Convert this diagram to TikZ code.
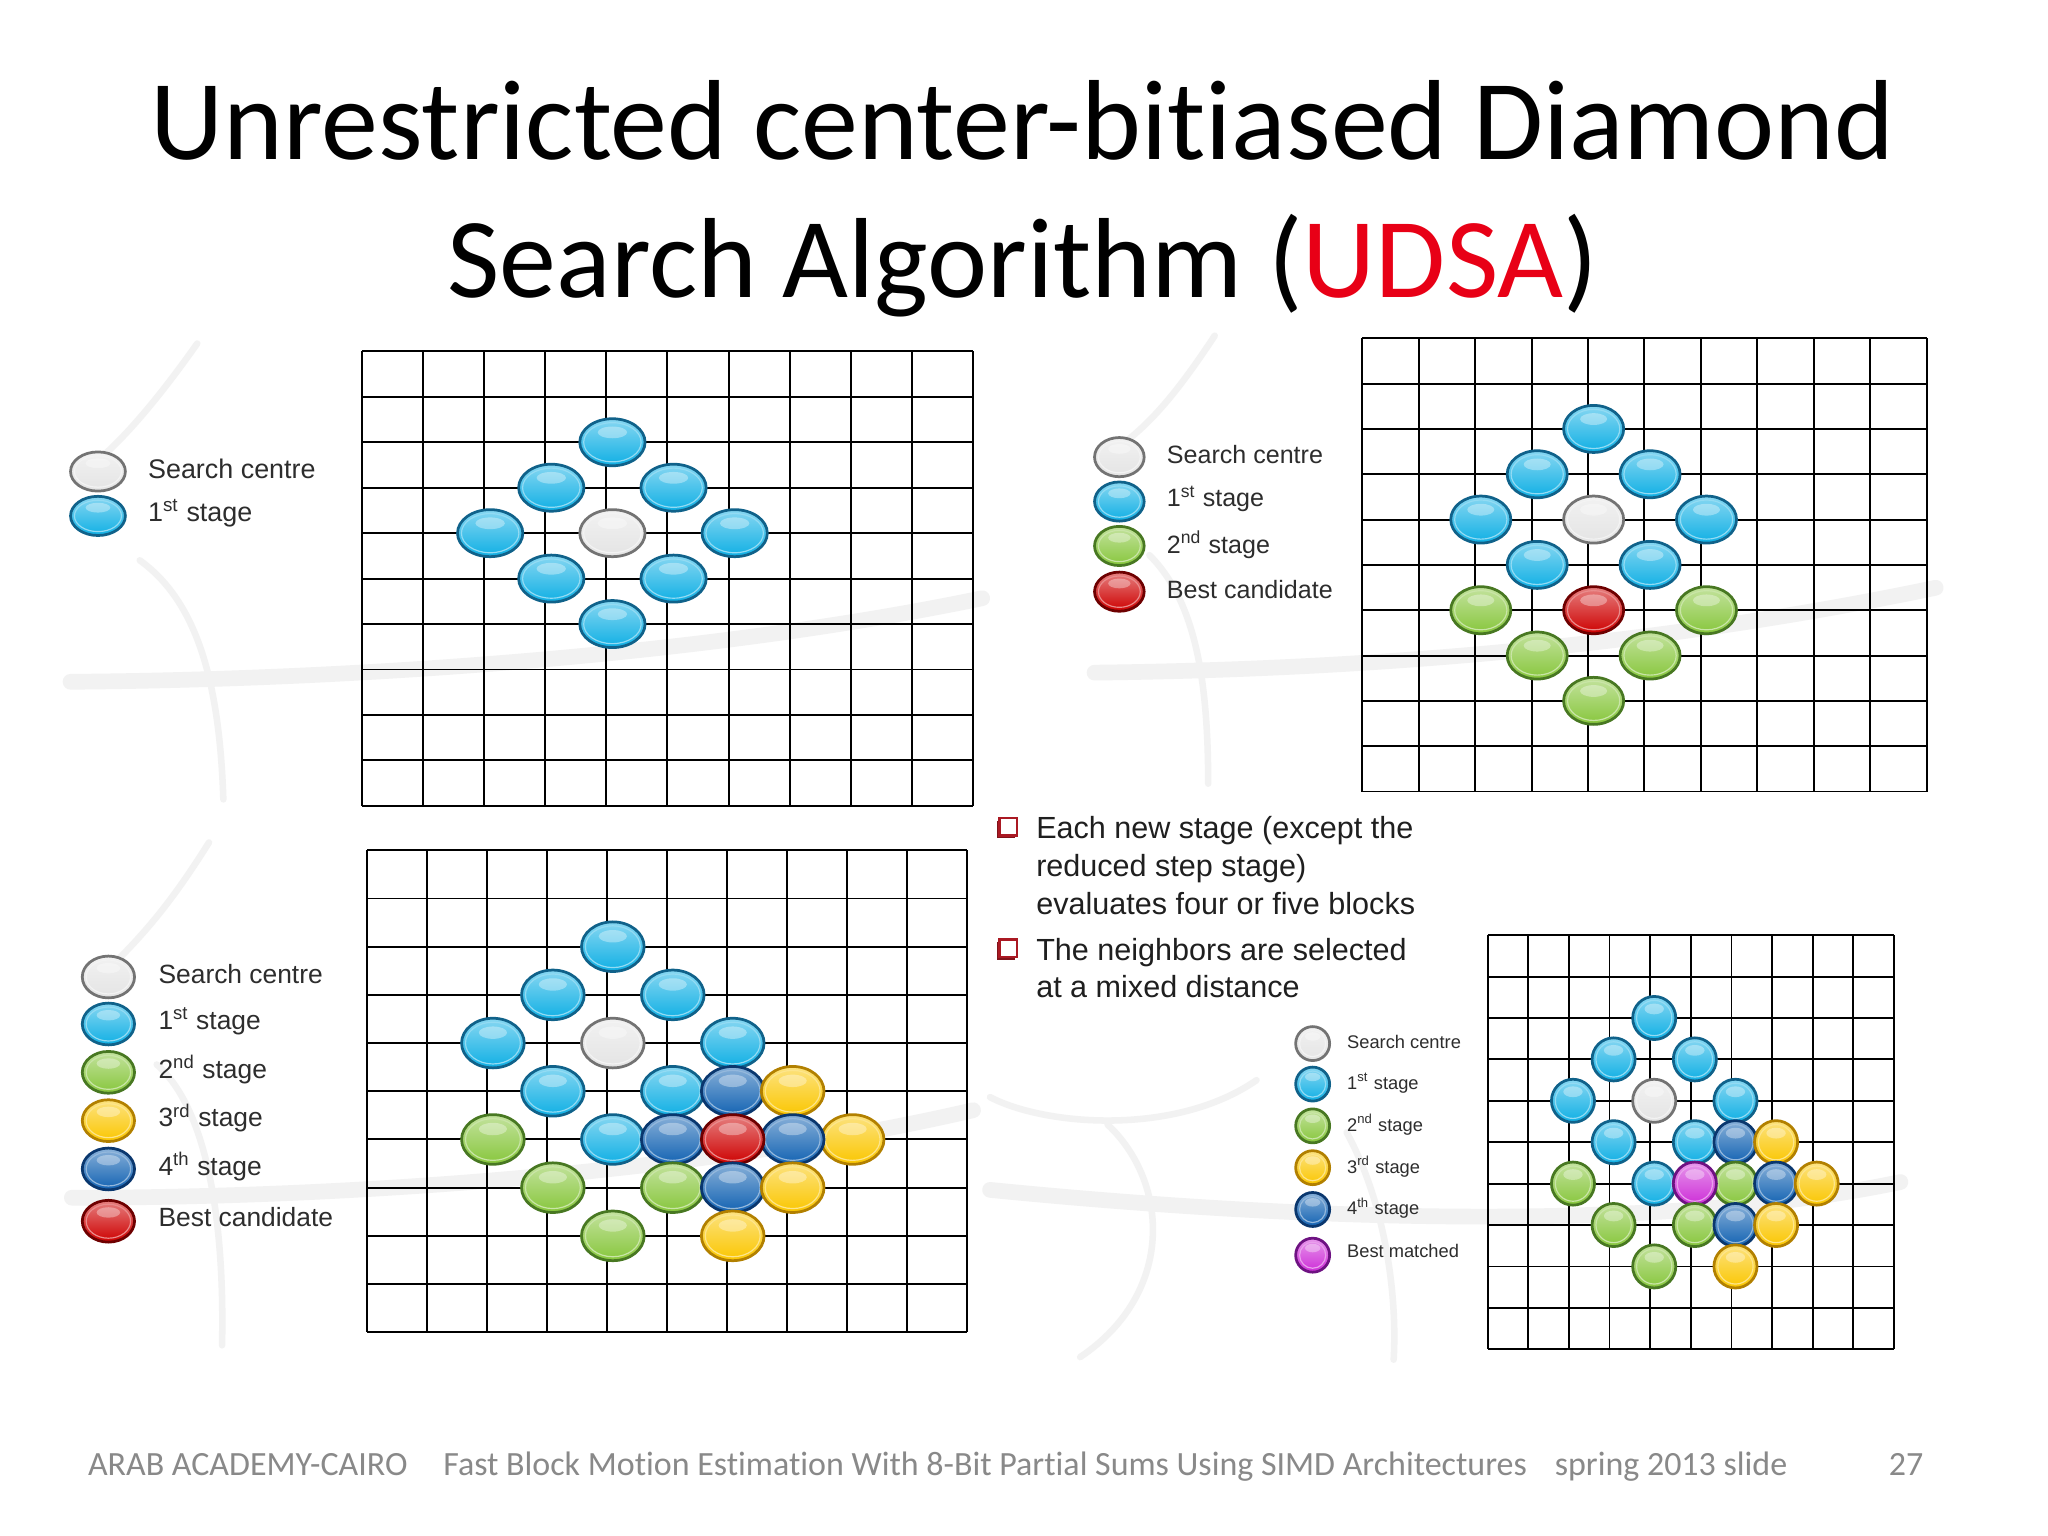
\documentclass[tikz,border=0pt]{standalone}
\usepackage{fontspec}
\setmainfont{Liberation Sans}
\newfontfamily\calibri[Ligatures=NoCommon]{Carlito}
\usetikzlibrary{shapes.geometric,calc,shadows}

\definecolor{titlered}{RGB}{232,0,22}
\definecolor{legtext}{RGB}{45,45,45}
\definecolor{foot}{RGB}{137,137,137}
\definecolor{boxred}{RGB}{170,25,35}
\definecolor{bgline}{RGB}{242,242,242}
% bead colours: c = body, r = rim
\definecolor{cwhite}{RGB}{228,228,228}  \definecolor{rwhite}{RGB}{115,115,115}
\definecolor{cblue}{RGB}{15,175,228}    \definecolor{rblue}{RGB}{16,98,138}
\definecolor{cgreen}{RGB}{135,198,60}   \definecolor{rgreen}{RGB}{72,120,34}
\definecolor{cyellow}{RGB}{250,198,0}   \definecolor{ryellow}{RGB}{178,128,0}
\definecolor{cdblue}{RGB}{18,98,178}    \definecolor{rdblue}{RGB}{10,55,110}
\definecolor{cred}{RGB}{205,0,0}        \definecolor{rred}{RGB}{110,0,0}
\definecolor{cmag}{RGB}{205,45,215}     \definecolor{rmag}{RGB}{110,18,130}

\tikzset{
  beadsz/.style={minimum width=24pt, minimum height=18pt},
  bead/.style={ellipse, inner sep=0pt, beadsz, draw=r#1, line width=1.05pt,
    top color=c#1!50!white, bottom color=c#1,
    path picture={
      \draw[c#1!45!white, line width=0.45pt]
        let \p1=(path picture bounding box.north east),
            \p2=(path picture bounding box.center) in
        (\p2) ellipse ({\x1-\x2-1.5pt} and {\y1-\y2-1.5pt});
      \fill[white, opacity=0.35]
        let \p1=(path picture bounding box.north east),
            \p2=(path picture bounding box.center) in
        (\x2,{\y2+0.42*(\y1-\y2)}) ellipse ({0.45*(\x1-\x2)} and {0.25*(\y1-\y2)});
    }},
  gl/.style={black, line width=0.75pt},
  legtxt/.style={anchor=west, text=legtext, inner sep=0pt},
  bultxt/.style={anchor=base west, text=black!88, inner sep=0pt,
    font=\fontsize{11.7}{14}\selectfont},
  checkbox/.style={rectangle, minimum size=6.8pt, inner sep=0pt, draw=boxred,
    line width=0.9pt, fill=white,
    drop shadow={shadow xshift=-1pt, shadow yshift=-1pt, fill=boxred!75!black, opacity=1}},
  bgband/.style={bgline, line width=6pt, line cap=round},
  bgarc/.style={bgline, line width=2.5pt, line cap=round},
}
\newcommand\bd[4]{\node[bead=#4] (#1) at (#2+0.1,#3) {};}
\newcommand\gridlines{\foreach \k in {0,...,10} {\draw[gl] (\k,0) -- (\k,10); \draw[gl] (0,\k) -- (10,\k);}}

\begin{document}
\begin{tikzpicture}[x={(0.5pt,0pt)}, y={(0pt,-0.5pt)}]
\useasboundingbox (0,0) rectangle (1568,1176);
\fill[white] (0,0) rectangle (1568,1176);

% ---------- faint background decoration ----------
\draw[bgband] (54,522) .. controls (300,520) and (560,498) .. (752,458);
\draw[bgarc] (151,263) .. controls (125,300) and (100,330) .. (80,348);
\draw[bgarc] (107,429) .. controls (150,460) and (168,520) .. (171,612);
\draw[bgband] (838,515) .. controls (1090,512) and (1300,488) .. (1482,450);
\draw[bgarc] (930,257) .. controls (905,295) and (885,320) .. (862,338);
\draw[bgarc] (880,425) .. controls (915,460) and (925,520) .. (925,600);
\draw[bgband] (55,917) .. controls (300,917) and (560,893) .. (745,850);
\draw[bgarc] (160,645) .. controls (135,685) and (115,710) .. (90,735);
\draw[bgarc] (120,815) .. controls (160,850) and (172,940) .. (170,1030);
\draw[bgband] (758,911) .. controls (950,930) and (1250,948) .. (1455,905);
\draw[bgarc] (758,840) .. controls (800,862) and (900,870) .. (962,827);
\draw[bgarc] (848,861) .. controls (895,905) and (900,990) .. (827,1039);
\draw[bgarc] (1031,867) .. controls (1060,920) and (1070,990) .. (1067,1041);

% ---------- title ----------
\node[anchor=base, inner sep=0pt, font=\calibri\fontsize{43.6}{50}\selectfont] (title1)
  at (783,122) {Unrestricted center-bitiased Diamond};
\node[anchor=base, inner sep=0pt, font=\calibri\fontsize{43.6}{50}\selectfont] (title2)
  at (783,228) {Search Algorithm (\textcolor{titlered}{UDSA})};

% ---------- grid 1 (top left) ----------
\begin{scope}[xshift=138.5pt, yshift=-134.5pt, x={(23.4pt,0pt)}, y={(0pt,-17.4pt)},
  beadsz/.style={minimum width=25pt, minimum height=18pt}]
  \gridlines
  \bd{a42}{4}{2}{blue}
  \bd{a33}{3}{3}{blue} \bd{a53}{5}{3}{blue}
  \bd{a24}{2}{4}{blue} \bd{a44}{4}{4}{white} \bd{a64}{6}{4}{blue}
  \bd{a35}{3}{5}{blue} \bd{a55}{5}{5}{blue}
  \bd{a46}{4}{6}{blue}
\end{scope}

% ---------- grid 2 (top right) ----------
\begin{scope}[xshift=521.5pt, yshift=-129.5pt, x={(21.6pt,0pt)}, y={(0pt,-17.35pt)},
  beadsz/.style={minimum width=23pt, minimum height=18pt}]
  \gridlines
  \bd{b42}{4}{2}{blue}
  \bd{b33}{3}{3}{blue} \bd{b53}{5}{3}{blue}
  \bd{b24}{2}{4}{blue} \bd{b44}{4}{4}{white} \bd{b64}{6}{4}{blue}
  \bd{b35}{3}{5}{blue} \bd{b55}{5}{5}{blue}
  \bd{b26}{2}{6}{green} \bd{b46}{4}{6}{red} \bd{b66}{6}{6}{green}
  \bd{b37}{3}{7}{green} \bd{b57}{5}{7}{green}
  \bd{b48}{4}{8}{green}
\end{scope}

% ---------- grid 3 (bottom left) ----------
\begin{scope}[xshift=140.5pt, yshift=-325.5pt, x={(22.95pt,0pt)}, y={(0pt,-18.45pt)},
  beadsz/.style={minimum width=24pt, minimum height=19pt}]
  \gridlines
  \bd{c42}{4}{2}{blue}
  \bd{c33}{3}{3}{blue} \bd{c53}{5}{3}{blue}
  \bd{c24}{2}{4}{blue} \bd{c44}{4}{4}{white} \bd{c64}{6}{4}{blue}
  \bd{c35}{3}{5}{blue} \bd{c55}{5}{5}{blue} \bd{c65}{6}{5}{dblue} \bd{c75}{7}{5}{yellow}
  \bd{c26}{2}{6}{green} \bd{c46}{4}{6}{blue} \bd{c56}{5}{6}{dblue}
  \bd{c86}{8}{6}{yellow} \bd{c76}{7}{6}{dblue} \bd{c66}{6}{6}{red}
  \bd{c37}{3}{7}{green} \bd{c57}{5}{7}{green} \bd{c67}{6}{7}{dblue} \bd{c77}{7}{7}{yellow}
  \bd{c48}{4}{8}{green} \bd{c68}{6}{8}{yellow}
\end{scope}

% ---------- grid 4 (bottom right) ----------
\begin{scope}[xshift=569.5pt, yshift=-358pt, x={(15.55pt,0pt)}, y={(0pt,-15.85pt)},
  beadsz/.style={minimum width=16.5pt, minimum height=16.5pt}, gl/.style={black, line width=0.7pt}]
  \gridlines
  \bd{d42}{4}{2}{blue}
  \bd{d33}{3}{3}{blue} \bd{d53}{5}{3}{blue}
  \bd{d24}{2}{4}{blue} \bd{d44}{4}{4}{white} \bd{d64}{6}{4}{blue}
  \bd{d35}{3}{5}{blue} \bd{d55}{5}{5}{blue} \bd{d65}{6}{5}{dblue} \bd{d75}{7}{5}{yellow}
  \bd{d26}{2}{6}{green} \bd{d46}{4}{6}{blue} \bd{d66}{6}{6}{green}
  \bd{d76}{7}{6}{dblue} \bd{d86}{8}{6}{yellow} \bd{d56}{5}{6}{mag}
  \bd{d37}{3}{7}{green} \bd{d57}{5}{7}{green} \bd{d67}{6}{7}{dblue} \bd{d77}{7}{7}{yellow}
  \bd{d48}{4}{8}{green} \bd{d68}{6}{8}{yellow}
\end{scope}

% ---------- legend 1 ----------
\begin{scope}[beadsz/.style={minimum width=21pt, minimum height=15pt}]
  \node[bead=white] (l1a) at (75,361) {};
  \node[bead=blue]  (l1b) at (75,395) {};
\end{scope}
\begin{scope}[legtxt/.append style={font=\fontsize{10.3}{12}\selectfont}]
  \node[legtxt] (t1a) at (113,359) {Search centre};
  \node[legtxt] (t1b) at (113,393) {1\textsuperscript{st} stage};
\end{scope}

% ---------- legend 2 ----------
\begin{scope}[beadsz/.style={minimum width=19pt, minimum height=15pt}]
  \node[bead=white] (l2a) at (857,350) {};
  \node[bead=blue]  (l2b) at (857,384) {};
  \node[bead=green] (l2c) at (857,418) {};
  \node[bead=red]   (l2d) at (857,453) {};
\end{scope}
\begin{scope}[legtxt/.append style={font=\fontsize{9.6}{12}\selectfont}]
  \node[legtxt] (t2a) at (893,348) {Search centre};
  \node[legtxt] (t2b) at (893,382) {1\textsuperscript{st} stage};
  \node[legtxt] (t2c) at (893,417) {2\textsuperscript{nd} stage};
  \node[legtxt] (t2d) at (893,451) {Best candidate};
\end{scope}

% ---------- legend 3 ----------
\begin{scope}[beadsz/.style={minimum width=20pt, minimum height=16pt}]
  \node[bead=white]  (l3a) at (83,748) {};
  \node[bead=blue]   (l3b) at (83,784) {};
  \node[bead=green]  (l3c) at (83,821) {};
  \node[bead=yellow] (l3d) at (83,858) {};
  \node[bead=dblue]  (l3e) at (83,895) {};
  \node[bead=red]    (l3f) at (83,935) {};
\end{scope}
\begin{scope}[legtxt/.append style={font=\fontsize{10.1}{12}\selectfont}]
  \node[legtxt] (t3a) at (121,746) {Search centre};
  \node[legtxt] (t3b) at (121,782) {1\textsuperscript{st} stage};
  \node[legtxt] (t3c) at (121,819) {2\textsuperscript{nd} stage};
  \node[legtxt] (t3d) at (121,856) {3\textsuperscript{rd} stage};
  \node[legtxt] (t3e) at (121,893) {4\textsuperscript{th} stage};
  \node[legtxt] (t3f) at (121,932) {Best candidate};
\end{scope}

% ---------- legend 4 ----------
\begin{scope}[beadsz/.style={minimum width=13pt, minimum height=13pt}]
  \node[bead=white]  (l4a) at (1005,799) {};
  \node[bead=blue]   (l4b) at (1005,830) {};
  \node[bead=green]  (l4c) at (1005,862) {};
  \node[bead=yellow] (l4d) at (1005,894) {};
  \node[bead=dblue]  (l4e) at (1005,926) {};
  \node[bead=mag]    (l4f) at (1005,961) {};
\end{scope}
\begin{scope}[legtxt/.append style={font=\fontsize{7}{9}\selectfont}]
  \node[legtxt] (t4a) at (1031,798) {Search centre};
  \node[legtxt] (t4b) at (1031,829) {1\textsuperscript{st} stage};
  \node[legtxt] (t4c) at (1031,861) {2\textsuperscript{nd} stage};
  \node[legtxt] (t4d) at (1031,893) {3\textsuperscript{rd} stage};
  \node[legtxt] (t4e) at (1031,925) {4\textsuperscript{th} stage};
  \node[legtxt] (t4f) at (1031,958) {Best matched};
\end{scope}

% ---------- bullets ----------
\node[checkbox] (cb1) at (772,633) {};
\node[checkbox] (cb2) at (772,726) {};
\node[bultxt] (b1a) at (793,642) {Each new stage (except the};
\node[bultxt] (b1b) at (793,671) {reduced step stage)};
\node[bultxt] (b1c) at (793,700) {evaluates four or five blocks};
\node[bultxt] (b2a) at (793,735) {The neighbors are selected};
\node[bultxt] (b2b) at (793,764) {at a mixed distance};

% ---------- footer ----------
\begin{scope}[every node/.append style={anchor=base west, inner sep=0pt, text=foot,
  font=\calibri\fontsize{13}{15}\selectfont}]
  \node (f1) at (67,1130) {ARAB ACADEMY-CAIRO};
  \node (f2) at (339,1130) {Fast Block Motion Estimation With 8-Bit Partial Sums Using SIMD Architectures};
  \node (f3) at (1190,1130) {spring 2013 slide};
  \node[anchor=base east] (f4) at (1473,1130) {27};
\end{scope}
\end{tikzpicture}
\end{document}
